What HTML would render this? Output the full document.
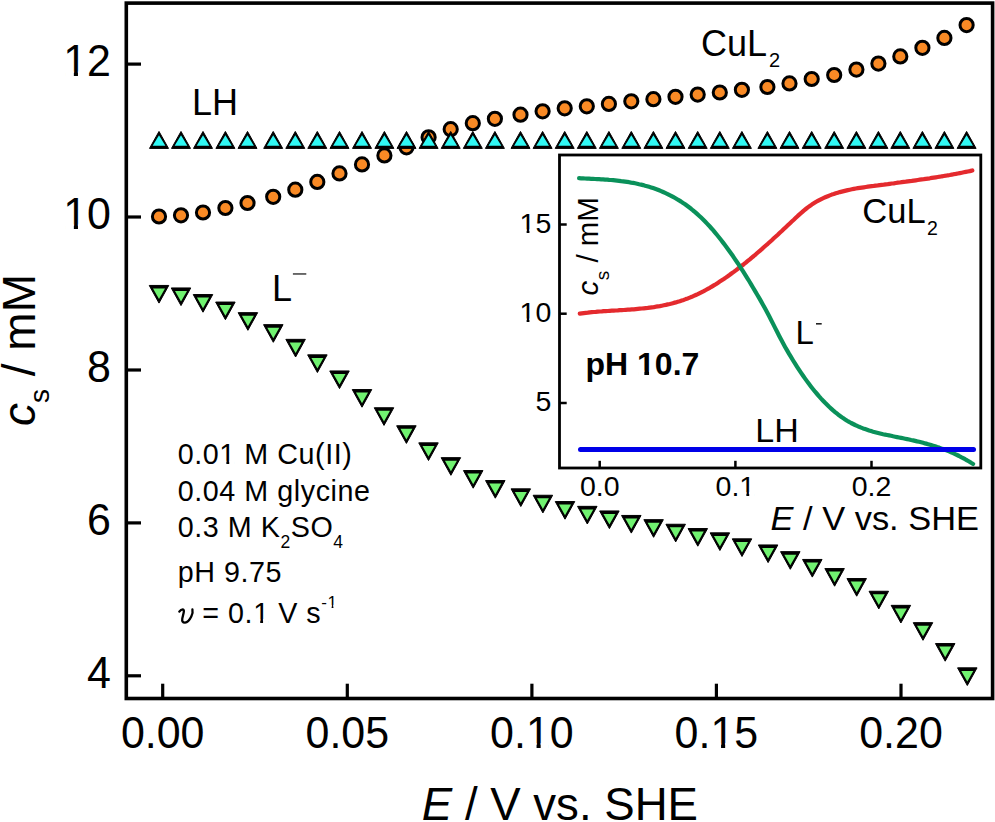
<!DOCTYPE html>
<html><head><meta charset="utf-8"><title>Surface concentrations vs potential</title><style>
html,body{margin:0;padding:0;background:#fff;overflow:hidden;}
svg{display:block;font-family:"Liberation Sans",sans-serif;font-kerning:none;}
</style></head><body>
<svg width="995" height="822" viewBox="0 0 995 822">
<rect x="0" y="0" width="995" height="822" fill="#fff"/>

<rect x="126.3" y="3.1" width="866.3" height="695.4" fill="none" stroke="#000" stroke-width="3.6"/>
<line x1="126.3" y1="64.1" x2="141" y2="64.1" stroke="#000" stroke-width="3.2"/>
<text transform="translate(111,76.3) scale(0.955,1)" font-size="45" text-anchor="end">12</text>
<line x1="126.3" y1="217.0" x2="141" y2="217.0" stroke="#000" stroke-width="3.2"/>
<text transform="translate(111,229.2) scale(0.955,1)" font-size="45" text-anchor="end">10</text>
<line x1="126.3" y1="370.0" x2="141" y2="370.0" stroke="#000" stroke-width="3.2"/>
<text transform="translate(111,382.2) scale(0.955,1)" font-size="45" text-anchor="end">8</text>
<line x1="126.3" y1="522.9" x2="141" y2="522.9" stroke="#000" stroke-width="3.2"/>
<text transform="translate(111,535.1) scale(0.955,1)" font-size="45" text-anchor="end">6</text>
<line x1="126.3" y1="675.8" x2="141" y2="675.8" stroke="#000" stroke-width="3.2"/>
<text transform="translate(111,688.0) scale(0.955,1)" font-size="45" text-anchor="end">4</text>
<line x1="162.7" y1="698.5" x2="162.7" y2="683.7" stroke="#000" stroke-width="3.2"/>
<text transform="translate(162.7,747.9) scale(0.955,1)" font-size="45" text-anchor="middle">0.00</text>
<line x1="347.3" y1="698.5" x2="347.3" y2="683.7" stroke="#000" stroke-width="3.2"/>
<text transform="translate(347.3,747.9) scale(0.955,1)" font-size="45" text-anchor="middle">0.05</text>
<line x1="531.9" y1="698.5" x2="531.9" y2="683.7" stroke="#000" stroke-width="3.2"/>
<text transform="translate(531.9,747.9) scale(0.955,1)" font-size="45" text-anchor="middle">0.10</text>
<line x1="716.4" y1="698.5" x2="716.4" y2="683.7" stroke="#000" stroke-width="3.2"/>
<text transform="translate(716.4,747.9) scale(0.955,1)" font-size="45" text-anchor="middle">0.15</text>
<line x1="901" y1="698.5" x2="901" y2="683.7" stroke="#000" stroke-width="3.2"/>
<text transform="translate(901,747.9) scale(0.955,1)" font-size="45" text-anchor="middle">0.20</text>
<text x="421.8" y="820.1" font-size="45.6"><tspan font-style="italic">E</tspan> / V vs. SHE</text>
<text transform="translate(34.6,350) rotate(-90)" font-size="46" text-anchor="middle"><tspan font-style="italic">c</tspan><tspan font-size="28" dy="14">s</tspan><tspan dy="-14"> / mM</tspan></text>
<g fill="#f98a25" stroke="#000" stroke-width="3"><circle cx="159" cy="216.5" r="6.6"/><circle cx="181" cy="215.3" r="6.6"/><circle cx="203" cy="212.5" r="6.6"/><circle cx="225.4" cy="208.0" r="6.6"/><circle cx="247.5" cy="203.0" r="6.6"/><circle cx="273.2" cy="196.8" r="6.6"/><circle cx="295.3" cy="189.7" r="6.6"/><circle cx="317.3" cy="181.9" r="6.6"/><circle cx="339.5" cy="173.4" r="6.6"/><circle cx="362" cy="164.4" r="6.6"/><circle cx="384.4" cy="155.4" r="6.6"/><circle cx="406.5" cy="147.3" r="6.6"/><circle cx="428.6" cy="137.3" r="6.6"/><circle cx="450.7" cy="129.2" r="6.6"/><circle cx="472.8" cy="123.2" r="6.6"/><circle cx="494.9" cy="118.8" r="6.6"/><circle cx="520.5" cy="114.7" r="6.6"/><circle cx="542.6" cy="111.3" r="6.6"/><circle cx="564.7" cy="108.3" r="6.6"/><circle cx="586.8" cy="106.3" r="6.6"/><circle cx="608.9" cy="103.9" r="6.6"/><circle cx="631.3" cy="101.3" r="6.6"/><circle cx="653.4" cy="99.2" r="6.6"/><circle cx="675.5" cy="96.8" r="6.6"/><circle cx="697.7" cy="94.6" r="6.6"/><circle cx="719.8" cy="92.5" r="6.6"/><circle cx="741.9" cy="89.8" r="6.6"/><circle cx="767.4" cy="87.0" r="6.6"/><circle cx="789.5" cy="83.4" r="6.6"/><circle cx="811.7" cy="79.0" r="6.6"/><circle cx="834.2" cy="75.0" r="6.6"/><circle cx="856.4" cy="69.6" r="6.6"/><circle cx="878.4" cy="63.6" r="6.6"/><circle cx="900.3" cy="56.4" r="6.6"/><circle cx="922.4" cy="47.8" r="6.6"/><circle cx="944.4" cy="37.9" r="6.6"/><circle cx="966.6" cy="25.1" r="6.6"/></g>
<polygon points="149.50,148.40 168.50,148.40 159.00,131.45" fill="#000" stroke="#000" stroke-width="1" stroke-linejoin="round"/><polygon points="152.60,145.65 165.40,145.65 159.00,135.15" fill="#30f8f4"/><polygon points="171.50,148.40 190.50,148.40 181.00,131.45" fill="#000" stroke="#000" stroke-width="1" stroke-linejoin="round"/><polygon points="174.60,145.65 187.40,145.65 181.00,135.15" fill="#30f8f4"/><polygon points="193.50,148.40 212.50,148.40 203.00,131.45" fill="#000" stroke="#000" stroke-width="1" stroke-linejoin="round"/><polygon points="196.60,145.65 209.40,145.65 203.00,135.15" fill="#30f8f4"/><polygon points="215.90,148.40 234.90,148.40 225.40,131.45" fill="#000" stroke="#000" stroke-width="1" stroke-linejoin="round"/><polygon points="219.00,145.65 231.80,145.65 225.40,135.15" fill="#30f8f4"/><polygon points="238.00,148.40 257.00,148.40 247.50,131.45" fill="#000" stroke="#000" stroke-width="1" stroke-linejoin="round"/><polygon points="241.10,145.65 253.90,145.65 247.50,135.15" fill="#30f8f4"/><polygon points="263.70,148.40 282.70,148.40 273.20,131.45" fill="#000" stroke="#000" stroke-width="1" stroke-linejoin="round"/><polygon points="266.80,145.65 279.60,145.65 273.20,135.15" fill="#30f8f4"/><polygon points="285.80,148.40 304.80,148.40 295.30,131.45" fill="#000" stroke="#000" stroke-width="1" stroke-linejoin="round"/><polygon points="288.90,145.65 301.70,145.65 295.30,135.15" fill="#30f8f4"/><polygon points="307.80,148.40 326.80,148.40 317.30,131.45" fill="#000" stroke="#000" stroke-width="1" stroke-linejoin="round"/><polygon points="310.90,145.65 323.70,145.65 317.30,135.15" fill="#30f8f4"/><polygon points="330.00,148.40 349.00,148.40 339.50,131.45" fill="#000" stroke="#000" stroke-width="1" stroke-linejoin="round"/><polygon points="333.10,145.65 345.90,145.65 339.50,135.15" fill="#30f8f4"/><polygon points="352.50,148.40 371.50,148.40 362.00,131.45" fill="#000" stroke="#000" stroke-width="1" stroke-linejoin="round"/><polygon points="355.60,145.65 368.40,145.65 362.00,135.15" fill="#30f8f4"/><polygon points="374.90,148.40 393.90,148.40 384.40,131.45" fill="#000" stroke="#000" stroke-width="1" stroke-linejoin="round"/><polygon points="378.00,145.65 390.80,145.65 384.40,135.15" fill="#30f8f4"/><polygon points="397.00,148.40 416.00,148.40 406.50,131.45" fill="#000" stroke="#000" stroke-width="1" stroke-linejoin="round"/><polygon points="400.10,145.65 412.90,145.65 406.50,135.15" fill="#30f8f4"/><polygon points="419.10,148.40 438.10,148.40 428.60,131.45" fill="#000" stroke="#000" stroke-width="1" stroke-linejoin="round"/><polygon points="422.20,145.65 435.00,145.65 428.60,135.15" fill="#30f8f4"/><polygon points="441.20,148.40 460.20,148.40 450.70,131.45" fill="#000" stroke="#000" stroke-width="1" stroke-linejoin="round"/><polygon points="444.30,145.65 457.10,145.65 450.70,135.15" fill="#30f8f4"/><polygon points="463.30,148.40 482.30,148.40 472.80,131.45" fill="#000" stroke="#000" stroke-width="1" stroke-linejoin="round"/><polygon points="466.40,145.65 479.20,145.65 472.80,135.15" fill="#30f8f4"/><polygon points="485.40,148.40 504.40,148.40 494.90,131.45" fill="#000" stroke="#000" stroke-width="1" stroke-linejoin="round"/><polygon points="488.50,145.65 501.30,145.65 494.90,135.15" fill="#30f8f4"/><polygon points="511.00,148.40 530.00,148.40 520.50,131.45" fill="#000" stroke="#000" stroke-width="1" stroke-linejoin="round"/><polygon points="514.10,145.65 526.90,145.65 520.50,135.15" fill="#30f8f4"/><polygon points="533.10,148.40 552.10,148.40 542.60,131.45" fill="#000" stroke="#000" stroke-width="1" stroke-linejoin="round"/><polygon points="536.20,145.65 549.00,145.65 542.60,135.15" fill="#30f8f4"/><polygon points="555.20,148.40 574.20,148.40 564.70,131.45" fill="#000" stroke="#000" stroke-width="1" stroke-linejoin="round"/><polygon points="558.30,145.65 571.10,145.65 564.70,135.15" fill="#30f8f4"/><polygon points="577.30,148.40 596.30,148.40 586.80,131.45" fill="#000" stroke="#000" stroke-width="1" stroke-linejoin="round"/><polygon points="580.40,145.65 593.20,145.65 586.80,135.15" fill="#30f8f4"/><polygon points="599.40,148.40 618.40,148.40 608.90,131.45" fill="#000" stroke="#000" stroke-width="1" stroke-linejoin="round"/><polygon points="602.50,145.65 615.30,145.65 608.90,135.15" fill="#30f8f4"/><polygon points="621.80,148.40 640.80,148.40 631.30,131.45" fill="#000" stroke="#000" stroke-width="1" stroke-linejoin="round"/><polygon points="624.90,145.65 637.70,145.65 631.30,135.15" fill="#30f8f4"/><polygon points="643.90,148.40 662.90,148.40 653.40,131.45" fill="#000" stroke="#000" stroke-width="1" stroke-linejoin="round"/><polygon points="647.00,145.65 659.80,145.65 653.40,135.15" fill="#30f8f4"/><polygon points="666.00,148.40 685.00,148.40 675.50,131.45" fill="#000" stroke="#000" stroke-width="1" stroke-linejoin="round"/><polygon points="669.10,145.65 681.90,145.65 675.50,135.15" fill="#30f8f4"/><polygon points="688.20,148.40 707.20,148.40 697.70,131.45" fill="#000" stroke="#000" stroke-width="1" stroke-linejoin="round"/><polygon points="691.30,145.65 704.10,145.65 697.70,135.15" fill="#30f8f4"/><polygon points="710.30,148.40 729.30,148.40 719.80,131.45" fill="#000" stroke="#000" stroke-width="1" stroke-linejoin="round"/><polygon points="713.40,145.65 726.20,145.65 719.80,135.15" fill="#30f8f4"/><polygon points="732.40,148.40 751.40,148.40 741.90,131.45" fill="#000" stroke="#000" stroke-width="1" stroke-linejoin="round"/><polygon points="735.50,145.65 748.30,145.65 741.90,135.15" fill="#30f8f4"/><polygon points="757.90,148.40 776.90,148.40 767.40,131.45" fill="#000" stroke="#000" stroke-width="1" stroke-linejoin="round"/><polygon points="761.00,145.65 773.80,145.65 767.40,135.15" fill="#30f8f4"/><polygon points="780.00,148.40 799.00,148.40 789.50,131.45" fill="#000" stroke="#000" stroke-width="1" stroke-linejoin="round"/><polygon points="783.10,145.65 795.90,145.65 789.50,135.15" fill="#30f8f4"/><polygon points="802.20,148.40 821.20,148.40 811.70,131.45" fill="#000" stroke="#000" stroke-width="1" stroke-linejoin="round"/><polygon points="805.30,145.65 818.10,145.65 811.70,135.15" fill="#30f8f4"/><polygon points="824.70,148.40 843.70,148.40 834.20,131.45" fill="#000" stroke="#000" stroke-width="1" stroke-linejoin="round"/><polygon points="827.80,145.65 840.60,145.65 834.20,135.15" fill="#30f8f4"/><polygon points="846.90,148.40 865.90,148.40 856.40,131.45" fill="#000" stroke="#000" stroke-width="1" stroke-linejoin="round"/><polygon points="850.00,145.65 862.80,145.65 856.40,135.15" fill="#30f8f4"/><polygon points="868.90,148.40 887.90,148.40 878.40,131.45" fill="#000" stroke="#000" stroke-width="1" stroke-linejoin="round"/><polygon points="872.00,145.65 884.80,145.65 878.40,135.15" fill="#30f8f4"/><polygon points="890.80,148.40 909.80,148.40 900.30,131.45" fill="#000" stroke="#000" stroke-width="1" stroke-linejoin="round"/><polygon points="893.90,145.65 906.70,145.65 900.30,135.15" fill="#30f8f4"/><polygon points="912.90,148.40 931.90,148.40 922.40,131.45" fill="#000" stroke="#000" stroke-width="1" stroke-linejoin="round"/><polygon points="916.00,145.65 928.80,145.65 922.40,135.15" fill="#30f8f4"/><polygon points="934.90,148.40 953.90,148.40 944.40,131.45" fill="#000" stroke="#000" stroke-width="1" stroke-linejoin="round"/><polygon points="938.00,145.65 950.80,145.65 944.40,135.15" fill="#30f8f4"/><polygon points="957.10,148.40 976.10,148.40 966.60,131.45" fill="#000" stroke="#000" stroke-width="1" stroke-linejoin="round"/><polygon points="960.20,145.65 973.00,145.65 966.60,135.15" fill="#30f8f4"/>
<polygon points="149.25,285.45 168.75,285.45 159.00,303.10" fill="#000" stroke="#000" stroke-width="1" stroke-linejoin="round"/><polygon points="153.00,288.50 165.00,288.50 159.00,299.10" fill="#70f270"/><polygon points="171.25,287.95 190.75,287.95 181.00,305.60" fill="#000" stroke="#000" stroke-width="1" stroke-linejoin="round"/><polygon points="175.00,291.00 187.00,291.00 181.00,301.60" fill="#70f270"/><polygon points="193.25,294.55 212.75,294.55 203.00,312.20" fill="#000" stroke="#000" stroke-width="1" stroke-linejoin="round"/><polygon points="197.00,297.60 209.00,297.60 203.00,308.20" fill="#70f270"/><polygon points="215.65,302.05 235.15,302.05 225.40,319.70" fill="#000" stroke="#000" stroke-width="1" stroke-linejoin="round"/><polygon points="219.40,305.10 231.40,305.10 225.40,315.70" fill="#70f270"/><polygon points="238.15,312.65 257.65,312.65 247.90,330.30" fill="#000" stroke="#000" stroke-width="1" stroke-linejoin="round"/><polygon points="241.90,315.70 253.90,315.70 247.90,326.30" fill="#70f270"/><polygon points="263.55,324.65 283.05,324.65 273.30,342.30" fill="#000" stroke="#000" stroke-width="1" stroke-linejoin="round"/><polygon points="267.30,327.70 279.30,327.70 273.30,338.30" fill="#70f270"/><polygon points="285.85,339.35 305.35,339.35 295.60,357.00" fill="#000" stroke="#000" stroke-width="1" stroke-linejoin="round"/><polygon points="289.60,342.40 301.60,342.40 295.60,353.00" fill="#70f270"/><polygon points="307.65,354.85 327.15,354.85 317.40,372.50" fill="#000" stroke="#000" stroke-width="1" stroke-linejoin="round"/><polygon points="311.40,357.90 323.40,357.90 317.40,368.50" fill="#70f270"/><polygon points="329.75,370.95 349.25,370.95 339.50,388.60" fill="#000" stroke="#000" stroke-width="1" stroke-linejoin="round"/><polygon points="333.50,374.00 345.50,374.00 339.50,384.60" fill="#70f270"/><polygon points="352.25,389.55 371.75,389.55 362.00,407.20" fill="#000" stroke="#000" stroke-width="1" stroke-linejoin="round"/><polygon points="356.00,392.60 368.00,392.60 362.00,403.20" fill="#70f270"/><polygon points="374.25,407.75 393.75,407.75 384.00,425.40" fill="#000" stroke="#000" stroke-width="1" stroke-linejoin="round"/><polygon points="378.00,410.80 390.00,410.80 384.00,421.40" fill="#70f270"/><polygon points="396.65,425.75 416.15,425.75 406.40,443.40" fill="#000" stroke="#000" stroke-width="1" stroke-linejoin="round"/><polygon points="400.40,428.80 412.40,428.80 406.40,439.40" fill="#70f270"/><polygon points="418.75,442.85 438.25,442.85 428.50,460.50" fill="#000" stroke="#000" stroke-width="1" stroke-linejoin="round"/><polygon points="422.50,445.90 434.50,445.90 428.50,456.50" fill="#70f270"/><polygon points="441.15,457.65 460.65,457.65 450.90,475.30" fill="#000" stroke="#000" stroke-width="1" stroke-linejoin="round"/><polygon points="444.90,460.70 456.90,460.70 450.90,471.30" fill="#70f270"/><polygon points="463.45,470.55 482.95,470.55 473.20,488.20" fill="#000" stroke="#000" stroke-width="1" stroke-linejoin="round"/><polygon points="467.20,473.60 479.20,473.60 473.20,484.20" fill="#70f270"/><polygon points="485.55,480.55 505.05,480.55 495.30,498.20" fill="#000" stroke="#000" stroke-width="1" stroke-linejoin="round"/><polygon points="489.30,483.60 501.30,483.60 495.30,494.20" fill="#70f270"/><polygon points="511.05,488.85 530.55,488.85 520.80,506.50" fill="#000" stroke="#000" stroke-width="1" stroke-linejoin="round"/><polygon points="514.80,491.90 526.80,491.90 520.80,502.50" fill="#70f270"/><polygon points="533.15,495.25 552.65,495.25 542.90,512.90" fill="#000" stroke="#000" stroke-width="1" stroke-linejoin="round"/><polygon points="536.90,498.30 548.90,498.30 542.90,508.90" fill="#70f270"/><polygon points="555.25,501.55 574.75,501.55 565.00,519.20" fill="#000" stroke="#000" stroke-width="1" stroke-linejoin="round"/><polygon points="559.00,504.60 571.00,504.60 565.00,515.20" fill="#70f270"/><polygon points="577.55,506.35 597.05,506.35 587.30,524.00" fill="#000" stroke="#000" stroke-width="1" stroke-linejoin="round"/><polygon points="581.30,509.40 593.30,509.40 587.30,520.00" fill="#70f270"/><polygon points="599.65,510.95 619.15,510.95 609.40,528.60" fill="#000" stroke="#000" stroke-width="1" stroke-linejoin="round"/><polygon points="603.40,514.00 615.40,514.00 609.40,524.60" fill="#70f270"/><polygon points="621.55,515.45 641.05,515.45 631.30,533.10" fill="#000" stroke="#000" stroke-width="1" stroke-linejoin="round"/><polygon points="625.30,518.50 637.30,518.50 631.30,529.10" fill="#70f270"/><polygon points="643.85,519.65 663.35,519.65 653.60,537.30" fill="#000" stroke="#000" stroke-width="1" stroke-linejoin="round"/><polygon points="647.60,522.70 659.60,522.70 653.60,533.30" fill="#70f270"/><polygon points="665.95,524.25 685.45,524.25 675.70,541.90" fill="#000" stroke="#000" stroke-width="1" stroke-linejoin="round"/><polygon points="669.70,527.30 681.70,527.30 675.70,537.90" fill="#70f270"/><polygon points="688.05,528.55 707.55,528.55 697.80,546.20" fill="#000" stroke="#000" stroke-width="1" stroke-linejoin="round"/><polygon points="691.80,531.60 703.80,531.60 697.80,542.20" fill="#70f270"/><polygon points="710.15,532.85 729.65,532.85 719.90,550.50" fill="#000" stroke="#000" stroke-width="1" stroke-linejoin="round"/><polygon points="713.90,535.90 725.90,535.90 719.90,546.50" fill="#70f270"/><polygon points="732.25,538.85 751.75,538.85 742.00,556.50" fill="#000" stroke="#000" stroke-width="1" stroke-linejoin="round"/><polygon points="736.00,541.90 748.00,541.90 742.00,552.50" fill="#70f270"/><polygon points="758.35,544.95 777.85,544.95 768.10,562.60" fill="#000" stroke="#000" stroke-width="1" stroke-linejoin="round"/><polygon points="762.10,548.00 774.10,548.00 768.10,558.60" fill="#70f270"/><polygon points="780.55,551.65 800.05,551.65 790.30,569.30" fill="#000" stroke="#000" stroke-width="1" stroke-linejoin="round"/><polygon points="784.30,554.70 796.30,554.70 790.30,565.30" fill="#70f270"/><polygon points="802.55,559.45 822.05,559.45 812.30,577.10" fill="#000" stroke="#000" stroke-width="1" stroke-linejoin="round"/><polygon points="806.30,562.50 818.30,562.50 812.30,573.10" fill="#70f270"/><polygon points="824.85,568.55 844.35,568.55 834.60,586.20" fill="#000" stroke="#000" stroke-width="1" stroke-linejoin="round"/><polygon points="828.60,571.60 840.60,571.60 834.60,582.20" fill="#70f270"/><polygon points="846.95,578.55 866.45,578.55 856.70,596.20" fill="#000" stroke="#000" stroke-width="1" stroke-linejoin="round"/><polygon points="850.70,581.60 862.70,581.60 856.70,592.20" fill="#70f270"/><polygon points="869.05,591.25 888.55,591.25 878.80,608.90" fill="#000" stroke="#000" stroke-width="1" stroke-linejoin="round"/><polygon points="872.80,594.30 884.80,594.30 878.80,604.90" fill="#70f270"/><polygon points="891.15,605.35 910.65,605.35 900.90,623.00" fill="#000" stroke="#000" stroke-width="1" stroke-linejoin="round"/><polygon points="894.90,608.40 906.90,608.40 900.90,619.00" fill="#70f270"/><polygon points="913.25,622.65 932.75,622.65 923.00,640.30" fill="#000" stroke="#000" stroke-width="1" stroke-linejoin="round"/><polygon points="917.00,625.70 929.00,625.70 923.00,636.30" fill="#70f270"/><polygon points="935.45,643.55 954.95,643.55 945.20,661.20" fill="#000" stroke="#000" stroke-width="1" stroke-linejoin="round"/><polygon points="939.20,646.60 951.20,646.60 945.20,657.20" fill="#70f270"/><polygon points="957.55,667.85 977.05,667.85 967.30,685.50" fill="#000" stroke="#000" stroke-width="1" stroke-linejoin="round"/><polygon points="961.30,670.90 973.30,670.90 967.30,681.50" fill="#70f270"/>
<text x="192" y="114.8" font-size="36">LH</text>
<text x="701" y="55.5" font-size="36">CuL<tspan font-size="20" dx="2" dy="11">2</tspan></text>
<text x="272" y="300.8" font-size="36">L</text>
<rect x="292.9" y="273.1" width="13.4" height="1.7" fill="#555"/>
<text x="177.8" y="464.3" font-size="28.7" letter-spacing="0.55">0.01 M Cu(II)</text>
<text x="177.8" y="500.8" font-size="28.7" letter-spacing="0.55">0.04 M glycine</text>
<text x="177.8" y="537.0" font-size="28.7" letter-spacing="0.55">0.3 M K<tspan font-size="17.5" dy="11">2</tspan><tspan dy="-11">SO</tspan><tspan font-size="17.5" dy="11">4</tspan></text>
<text x="177.8" y="582.4" font-size="28.7" letter-spacing="0.55">pH 9.75</text>
<path d="M179.3,611.6 Q181,609.2 182.9,609.3 Q184.4,609.6 183.6,613 L182.3,618.5 Q181.6,622.8 185,622.7 Q188.5,622.3 191.3,616.5 Q193.2,612.5 192.4,609.4" fill="none" stroke="#000" stroke-width="2.3" stroke-linecap="round" stroke-linejoin="round"/>
<text x="202.3" y="622.6" font-size="28.7" letter-spacing="0.55">= 0.1 V s<tspan font-size="17" dy="-15">-1</tspan></text>
<rect x="559.5" y="155" width="421.3" height="313" fill="#fff" stroke="#000" stroke-width="2.8"/>
<line x1="559.5" y1="224.5" x2="566.7" y2="224.5" stroke="#000" stroke-width="2.5"/>
<text x="551.3" y="232.8" font-size="28.5" text-anchor="end">15</text>
<line x1="559.5" y1="313.7" x2="566.7" y2="313.7" stroke="#000" stroke-width="2.5"/>
<text x="551.3" y="322.0" font-size="28.5" text-anchor="end">10</text>
<line x1="559.5" y1="403.0" x2="566.7" y2="403.0" stroke="#000" stroke-width="2.5"/>
<text x="551.3" y="411.3" font-size="28.5" text-anchor="end">5</text>
<line x1="599.7" y1="468" x2="599.7" y2="460.8" stroke="#000" stroke-width="2.5"/>
<text x="599.7" y="495.5" font-size="28.5" text-anchor="middle">0.0</text>
<line x1="735.4" y1="468" x2="735.4" y2="460.8" stroke="#000" stroke-width="2.5"/>
<text x="735.4" y="495.5" font-size="28.5" text-anchor="middle">0.1</text>
<line x1="871.5" y1="468" x2="871.5" y2="460.8" stroke="#000" stroke-width="2.5"/>
<text x="871.5" y="495.5" font-size="28.5" text-anchor="middle">0.2</text>
<text transform="translate(770.5,529.6) scale(1.06,1)" font-size="32.5"><tspan font-style="italic">E</tspan> / V vs. SHE</text>
<text transform="translate(597.8,246.3) rotate(-90)" font-size="29.5" text-anchor="middle"><tspan font-style="italic">c</tspan><tspan font-size="19" dx="0.5" dy="11.5">s</tspan><tspan dy="-11.5"> / mM</tspan></text>
<path d="M579.8,313.7 L581.8,313.4 L583.8,313.1 L585.8,312.9 L587.8,312.7 L589.8,312.4 L591.8,312.2 L593.8,312.0 L595.8,311.9 L597.8,311.7 L599.8,311.5 L601.8,311.4 L603.8,311.2 L605.8,311.1 L607.8,311.0 L609.8,310.8 L611.8,310.7 L613.8,310.6 L615.8,310.5 L617.8,310.4 L619.8,310.2 L621.8,310.1 L623.8,310.0 L625.8,309.8 L627.8,309.7 L629.8,309.6 L631.8,309.4 L633.8,309.3 L635.8,309.1 L637.8,308.9 L639.8,308.7 L641.8,308.5 L643.8,308.3 L645.8,308.1 L647.8,307.9 L649.8,307.6 L651.8,307.3 L653.8,307.1 L655.8,306.7 L657.8,306.4 L659.8,306.1 L661.8,305.7 L663.8,305.3 L665.8,304.9 L667.8,304.4 L669.8,304.0 L671.8,303.5 L673.8,302.9 L675.8,302.4 L677.8,301.8 L679.8,301.2 L681.8,300.5 L683.8,299.9 L685.8,299.1 L687.8,298.4 L689.8,297.6 L691.8,296.8 L693.8,295.9 L695.8,295.0 L697.8,294.1 L699.8,293.1 L701.8,292.1 L703.8,291.1 L705.8,290.0 L707.8,288.9 L709.8,287.8 L711.8,286.6 L713.8,285.4 L715.8,284.2 L717.8,282.9 L719.8,281.6 L721.8,280.3 L723.8,279.0 L725.8,277.6 L727.8,276.2 L729.8,274.8 L731.8,273.3 L733.8,271.9 L735.8,270.4 L737.8,268.8 L739.8,267.3 L741.8,265.7 L743.8,264.2 L745.8,262.6 L747.8,260.9 L749.8,259.3 L751.8,257.6 L753.8,256.0 L755.8,254.3 L757.8,252.5 L759.8,250.8 L761.8,249.1 L763.8,247.3 L765.8,245.5 L767.8,243.8 L769.8,242.0 L771.8,240.2 L773.8,238.3 L775.8,236.5 L777.8,234.7 L779.8,232.8 L781.8,231.0 L783.8,229.1 L785.8,227.2 L787.8,225.3 L789.8,223.4 L791.8,221.5 L793.8,219.7 L795.8,217.8 L797.8,215.9 L799.8,214.1 L801.8,212.4 L803.8,210.6 L805.8,209.0 L807.8,207.4 L809.8,206.0 L811.8,204.6 L813.8,203.3 L815.8,202.0 L817.8,200.9 L819.8,199.8 L821.8,198.8 L823.8,197.9 L825.8,197.0 L827.8,196.2 L829.8,195.4 L831.8,194.6 L833.8,194.0 L835.8,193.3 L837.8,192.7 L839.8,192.1 L841.8,191.6 L843.8,191.1 L845.8,190.6 L847.8,190.1 L849.8,189.7 L851.8,189.3 L853.8,188.9 L855.8,188.5 L857.8,188.2 L859.8,187.9 L861.8,187.6 L863.8,187.3 L865.8,187.0 L867.8,186.7 L869.8,186.4 L871.8,186.1 L873.8,185.9 L875.8,185.6 L877.8,185.4 L879.8,185.1 L881.8,184.8 L883.8,184.6 L885.8,184.3 L887.8,184.1 L889.8,183.8 L891.8,183.5 L893.8,183.3 L895.8,183.0 L897.8,182.7 L899.8,182.5 L901.8,182.2 L903.8,181.9 L905.8,181.7 L907.8,181.4 L909.8,181.1 L911.8,180.9 L913.8,180.6 L915.8,180.3 L917.8,180.0 L919.8,179.7 L921.8,179.4 L923.8,179.2 L925.8,178.9 L927.8,178.6 L929.8,178.3 L931.8,177.9 L933.8,177.6 L935.8,177.3 L937.8,177.0 L939.8,176.7 L941.8,176.3 L943.8,176.0 L945.8,175.7 L947.8,175.3 L949.8,175.0 L951.8,174.6 L953.8,174.2 L955.8,173.9 L957.8,173.5 L959.8,173.1 L961.8,172.7 L963.8,172.3 L965.8,171.9 L967.8,171.5 L969.8,171.1 L971.8,170.6 L972.3,170.5" fill="none" stroke="#e42a2e" stroke-width="4.2" stroke-linecap="round" stroke-linejoin="round"/>
<path d="M579.1,178.2 L581.1,178.3 L583.1,178.4 L585.1,178.5 L587.1,178.6 L589.1,178.7 L591.1,178.8 L593.1,178.9 L595.1,179.0 L597.1,179.1 L599.1,179.2 L601.1,179.3 L603.1,179.4 L605.1,179.6 L607.1,179.7 L609.1,179.9 L611.1,180.0 L613.1,180.2 L615.1,180.4 L617.1,180.6 L619.1,180.8 L621.1,181.1 L623.1,181.3 L625.1,181.6 L627.1,181.9 L629.1,182.2 L631.1,182.6 L633.1,182.9 L635.1,183.3 L637.1,183.7 L639.1,184.2 L641.1,184.6 L643.1,185.1 L645.1,185.7 L647.1,186.2 L649.1,186.8 L651.1,187.4 L653.1,188.1 L655.1,188.8 L657.1,189.5 L659.1,190.3 L661.1,191.1 L663.1,192.0 L665.1,192.9 L667.1,193.8 L669.1,194.8 L671.1,195.8 L673.1,196.9 L675.1,198.0 L677.1,199.2 L679.1,200.4 L681.1,201.6 L683.1,203.0 L685.1,204.3 L687.1,205.8 L689.1,207.3 L691.1,208.8 L693.1,210.5 L695.1,212.1 L697.1,213.9 L699.1,215.7 L701.1,217.6 L703.1,219.5 L705.1,221.5 L707.1,223.6 L709.1,225.7 L711.1,228.0 L713.1,230.2 L715.1,232.6 L717.1,235.0 L719.1,237.5 L721.1,240.0 L723.1,242.6 L725.1,245.2 L727.1,247.9 L729.1,250.7 L731.1,253.5 L733.1,256.3 L735.1,259.3 L737.1,262.2 L739.1,265.2 L741.1,268.3 L743.1,271.4 L745.1,274.6 L747.1,277.8 L749.1,281.0 L751.1,284.3 L753.1,287.7 L755.1,291.1 L757.1,294.5 L759.1,297.9 L761.1,301.4 L763.1,305.0 L765.1,308.6 L767.1,312.3 L769.1,316.1 L771.1,319.9 L773.1,323.9 L775.1,327.9 L777.1,331.8 L779.1,335.8 L781.1,339.6 L783.1,343.3 L785.1,346.9 L787.1,350.4 L789.1,353.9 L791.1,357.2 L793.1,360.5 L795.1,363.7 L797.1,366.8 L799.1,369.9 L801.1,372.9 L803.1,375.8 L805.1,378.6 L807.1,381.4 L809.1,384.1 L811.1,386.7 L813.1,389.2 L815.1,391.7 L817.1,394.0 L819.1,396.4 L821.1,398.6 L823.1,400.7 L825.1,402.8 L827.1,404.8 L829.1,406.8 L831.1,408.6 L833.1,410.4 L835.1,412.1 L837.1,413.7 L839.1,415.3 L841.1,416.7 L843.1,418.1 L845.1,419.4 L847.1,420.7 L849.1,421.9 L851.1,423.0 L853.1,424.0 L855.1,425.0 L857.1,425.9 L859.1,426.8 L861.1,427.6 L863.1,428.4 L865.1,429.1 L867.1,429.8 L869.1,430.5 L871.1,431.1 L873.1,431.7 L875.1,432.2 L877.1,432.7 L879.1,433.2 L881.1,433.7 L883.1,434.2 L885.1,434.6 L887.1,435.0 L889.1,435.4 L891.1,435.8 L893.1,436.3 L895.1,436.7 L897.1,437.1 L899.1,437.5 L901.1,437.9 L903.1,438.3 L905.1,438.7 L907.1,439.1 L909.1,439.5 L911.1,440.0 L913.1,440.4 L915.1,440.9 L917.1,441.4 L919.1,441.8 L921.1,442.3 L923.1,442.8 L925.1,443.4 L927.1,443.9 L929.1,444.5 L931.1,445.1 L933.1,445.7 L935.1,446.3 L937.1,447.0 L939.1,447.6 L941.1,448.4 L943.1,449.1 L945.1,449.8 L947.1,450.6 L949.1,451.4 L951.1,452.3 L953.1,453.2 L955.1,454.1 L957.1,455.0 L959.1,456.0 L961.1,457.1 L963.1,458.1 L965.1,459.2 L967.1,460.4 L969.1,461.5 L971.1,462.8 L973.1,464.0" fill="none" stroke="#0a915a" stroke-width="4.2" stroke-linecap="round" stroke-linejoin="round"/>
<line x1="580.5" y1="449.5" x2="973.5" y2="449.5" stroke="#0000e8" stroke-width="5" stroke-linecap="round"/>
<text x="862.3" y="223.2" font-size="34.5">CuL<tspan font-size="19.5" dx="1.5" dy="11.3">2</tspan></text>
<text x="795.6" y="344.4" font-size="33">L</text>
<rect x="816" y="323" width="5.7" height="1.6" fill="#222"/>
<text x="755.3" y="442" font-size="34">LH</text>
<text x="585.5" y="375.2" font-size="32" font-weight="bold">pH 10.7</text>
<g fill="#fff"><rect x="65.48" y="71.54" width="8.38" height="5.96"/><rect x="77.96" y="71.54" width="8.05" height="5.96"/><rect x="65.48" y="224.44" width="8.38" height="5.96"/><rect x="77.96" y="224.44" width="8.05" height="5.96"/><rect x="528.18" y="743.14" width="8.38" height="5.96"/><rect x="540.66" y="743.14" width="8.05" height="5.96"/><rect x="712.68" y="743.14" width="8.38" height="5.96"/><rect x="725.16" y="743.14" width="8.05" height="5.96"/><rect x="220.50" y="460.76" width="5.88" height="4.74"/><rect x="229.22" y="460.76" width="5.66" height="4.74"/><rect x="254.33" y="619.06" width="5.88" height="4.74"/><rect x="263.05" y="619.06" width="5.66" height="4.74"/><rect x="327.78" y="604.93" width="3.83" height="3.87"/><rect x="333.41" y="604.93" width="3.70" height="3.87"/><rect x="520.77" y="229.27" width="5.85" height="4.73"/><rect x="529.43" y="229.27" width="5.62" height="4.73"/><rect x="520.77" y="318.47" width="5.85" height="4.73"/><rect x="529.43" y="318.47" width="5.62" height="4.73"/><rect x="740.52" y="491.97" width="5.85" height="4.73"/><rect x="749.19" y="491.97" width="5.62" height="4.73"/><rect x="638.06" y="370.53" width="6.30" height="5.87"/><rect x="649.06" y="370.53" width="5.90" height="5.87"/></g>
</svg></body></html>
